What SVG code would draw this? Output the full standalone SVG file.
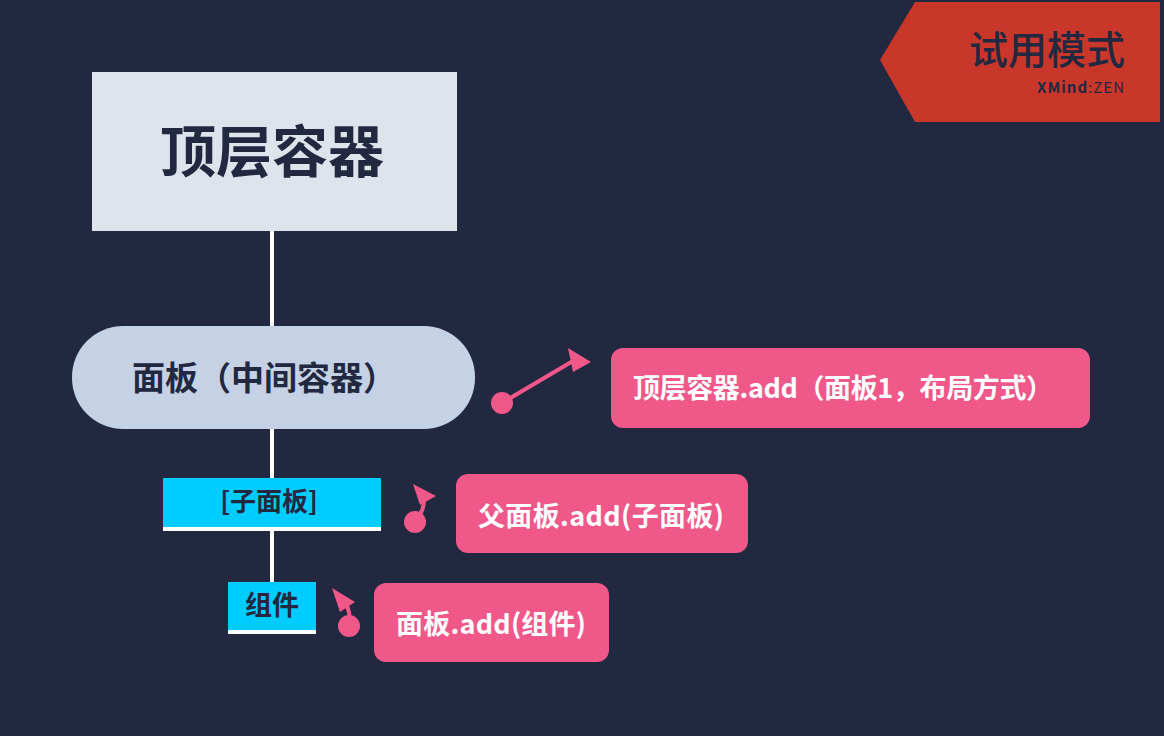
<svg xmlns="http://www.w3.org/2000/svg" width="1164" height="736" viewBox="0 0 1164 736">
<style>
text{font-family:"Noto Sans CJK SC","Noto Sans",sans-serif}
.dk{fill:#222840;font-weight:bold}
.pk{fill:#f0588a}
.wt{fill:#fff;font-size:27px;font-weight:600}
.ln{stroke:#fff;stroke-width:4}
.cn{stroke:#f0588a;stroke-width:4;fill:none}
</style>
<rect width="1164" height="736" fill="#222840"/>
<g id="connectors">
<line class="ln" x1="272" y1="231" x2="272" y2="327"/>
<line class="ln" x1="272" y1="429" x2="272" y2="480"/>
<line class="ln" x1="272" y1="531" x2="272" y2="584"/>
<circle cx="502" cy="403" r="11" class="pk"/>
<line class="cn" x1="502" y1="403" x2="578" y2="358"/>
<polygon class="pk" points="568,348 591,362 573,372"/>
<circle cx="415" cy="522" r="11" class="pk"/>
<path class="cn" d="M415,522 Q428,506 422,492"/>
<polygon class="pk" points="413,484 436,496 420,505"/>
<circle cx="349" cy="626" r="11" class="pk"/>
<path class="cn" d="M349,626 Q352,608 340,596"/>
<polygon class="pk" points="332,588 355,602 340,612"/>
</g>
<g id="top">
<rect x="92" y="72" width="365" height="159" fill="#dfe4ec"/>
<text x="272" y="172" font-size="56" text-anchor="middle" class="dk">顶层容器</text>
</g>
<g id="panel">
<rect x="72" y="326" width="403" height="103" rx="51" fill="#c5d1e4"/>
<text x="264" y="390" font-size="33" text-anchor="middle" class="dk">面板（中间容器）</text>
</g>
<g id="subpanel">
<rect x="163" y="478" width="218" height="49" fill="#00ccff"/>
<rect x="163" y="527" width="218" height="4" fill="#fff"/>
<text x="269" y="511" font-size="26" text-anchor="middle" class="dk">[子面板]</text>
</g>
<g id="component">
<rect x="228" y="582" width="88" height="48" fill="#00ccff"/>
<rect x="228" y="630" width="88" height="4" fill="#fff"/>
<text x="272" y="615" font-size="27" text-anchor="middle" class="dk">组件</text>
</g>
<g id="n1">
<rect x="611" y="348" width="479" height="80" rx="12" class="pk"/>
<text x="633" y="398" class="wt" textLength="420">顶层容器.add（面板1，布局方式）</text>
</g>
<g id="n2">
<rect x="456" y="474" width="292" height="79" rx="12" class="pk"/>
<text x="478" y="526" class="wt" textLength="246">父面板.add(子面板)</text>
</g>
<g id="n3">
<rect x="374" y="583" width="235" height="79" rx="12" class="pk"/>
<text x="396" y="634" class="wt" textLength="190">面板.add(组件)</text>
</g>
<g id="badge">
<polygon points="880,60 915,2 1160,2 1160,122 915,122" fill="#c8372a"/>
<text x="1125" y="64" font-size="39" text-anchor="end" fill="#222840" font-weight="500">试用模式</text>
<text x="1125" y="93" font-size="15" text-anchor="end" fill="#222840" letter-spacing="1"><tspan font-weight="bold">XMind</tspan>:ZEN</text>
</g>
</svg>
